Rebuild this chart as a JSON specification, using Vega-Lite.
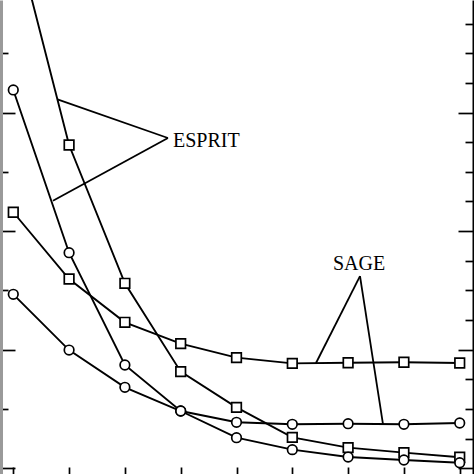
{
  "$schema": "https://vega.github.io/schema/vega-lite/v6.json",
  "width": 473,
  "height": 474,
  "autosize": {"type": "none"},
  "padding": {"left": 0, "top": 0, "right": 1, "bottom": 0},
  "background": "white",
  "config": {"view": {"stroke": null}},
  "datasets": {
    "curves": [
      {"x": 1, "y": 4.564, "series": "ESPRIT A", "marker": "square"},
      {"x": 2, "y": 2.726, "series": "ESPRIT A", "marker": "square"},
      {"x": 3, "y": 1.560, "series": "ESPRIT A", "marker": "square"},
      {"x": 4, "y": 0.815, "series": "ESPRIT A", "marker": "square"},
      {"x": 5, "y": 0.514, "series": "ESPRIT A", "marker": "square"},
      {"x": 6, "y": 0.261, "series": "ESPRIT A", "marker": "square"},
      {"x": 7, "y": 0.174, "series": "ESPRIT A", "marker": "square"},
      {"x": 8, "y": 0.132, "series": "ESPRIT A", "marker": "square"},
      {"x": 9, "y": 0.093, "series": "ESPRIT A", "marker": "square"},
      {"x": 1, "y": 3.190, "series": "ESPRIT B", "marker": "circle"},
      {"x": 2, "y": 1.818, "series": "ESPRIT B", "marker": "circle"},
      {"x": 3, "y": 0.871, "series": "ESPRIT B", "marker": "circle"},
      {"x": 4, "y": 0.483, "series": "ESPRIT B", "marker": "circle"},
      {"x": 5, "y": 0.258, "series": "ESPRIT B", "marker": "circle"},
      {"x": 6, "y": 0.157, "series": "ESPRIT B", "marker": "circle"},
      {"x": 7, "y": 0.095, "series": "ESPRIT B", "marker": "circle"},
      {"x": 8, "y": 0.070, "series": "ESPRIT B", "marker": "circle"},
      {"x": 9, "y": 0.047, "series": "ESPRIT B", "marker": "circle"},
      {"x": 1, "y": 2.159, "series": "SAGE A", "marker": "square"},
      {"x": 2, "y": 1.596, "series": "SAGE A", "marker": "square"},
      {"x": 3, "y": 1.231, "series": "SAGE A", "marker": "square"},
      {"x": 4, "y": 1.051, "series": "SAGE A", "marker": "square"},
      {"x": 5, "y": 0.933, "series": "SAGE A", "marker": "square"},
      {"x": 6, "y": 0.885, "series": "SAGE A", "marker": "square"},
      {"x": 7, "y": 0.890, "series": "SAGE A", "marker": "square"},
      {"x": 8, "y": 0.894, "series": "SAGE A", "marker": "square"},
      {"x": 9, "y": 0.888, "series": "SAGE A", "marker": "square"},
      {"x": 1, "y": 1.467, "series": "SAGE B", "marker": "circle"},
      {"x": 2, "y": 0.997, "series": "SAGE B", "marker": "circle"},
      {"x": 3, "y": 0.683, "series": "SAGE B", "marker": "circle"},
      {"x": 4, "y": 0.483, "series": "SAGE B", "marker": "circle"},
      {"x": 5, "y": 0.388, "series": "SAGE B", "marker": "circle"},
      {"x": 6, "y": 0.371, "series": "SAGE B", "marker": "circle"},
      {"x": 7, "y": 0.376, "series": "SAGE B", "marker": "circle"},
      {"x": 8, "y": 0.371, "series": "SAGE B", "marker": "circle"},
      {"x": 9, "y": 0.382, "series": "SAGE B", "marker": "circle"}
    ],
    "pointers": [
      {"x": 3.772, "y": 2.785, "x2": 1.792, "y2": 3.110},
      {"x": 3.772, "y": 2.785, "x2": 1.711, "y2": 2.256},
      {"x": 7.213, "y": 1.621, "x2": 6.425, "y2": 0.888},
      {"x": 7.213, "y": 1.621, "x2": 7.625, "y2": 0.373}
    ],
    "labels": [
      {"x": 3.862, "y": 2.713, "label": "ESPRIT"},
      {"x": 6.729, "y": 1.672, "label": "SAGE"}
    ]
  },
  "layer": [
    {
      "layer": [
        {
          "data": {"name": "curves"},
          "mark": {"type": "line", "color": "black", "strokeWidth": 1.9, "clip": true},
          "encoding": {
            "x": {"field": "x", "type": "quantitative",
                  "scale": {"domain": [0.762, 9.238], "nice": false, "zero": false},
                  "axis": {"orient": "bottom", "values": [1, 2, 3, 4, 5, 6, 7, 8, 9], "domain": false, "labels": false, "title": null, "grid": false, "ticks": true, "tickSize": -7, "tickColor": "black", "tickWidth": 1.7}},
            "y": {"field": "y", "type": "quantitative",
                  "scale": {"domain": [-0.0481, 3.9486], "nice": false, "zero": false},
                  "axis": {"orient": "left", "values": [0, 0.25, 0.5, 0.75, 1, 1.25, 1.5, 1.75, 2, 2.25, 2.5, 2.75, 3, 3.25, 3.5, 3.75],
                           "labels": false, "title": null, "grid": false, "domain": true, "domainColor": "#9a9a9a", "domainWidth": 5,
                           "tickColor": "black", "tickWidth": 1.7,
                           "tickSize": {"condition": {"test": "datum.value % 1 === 0", "value": -15}, "value": -8}}},
            "detail": {"field": "series"}
          }
        },
        {
          "data": {"name": "curves"},
          "mark": {"type": "point", "filled": true, "fill": "white", "stroke": "black", "strokeWidth": 1.7, "size": 92, "opacity": 1, "clip": true},
          "encoding": {
            "x": {"field": "x", "type": "quantitative"},
            "y": {"field": "y", "type": "quantitative"},
            "shape": {"field": "marker", "type": "nominal", "scale": {"domain": ["square", "circle"], "range": ["square", "circle"]}, "legend": null}
          }
        },
        {
          "data": {"name": "pointers"},
          "mark": {"type": "rule", "color": "black", "strokeWidth": 1.8},
          "encoding": {
            "x": {"field": "x", "type": "quantitative"},
            "y": {"field": "y", "type": "quantitative"},
            "x2": {"field": "x2"},
            "y2": {"field": "y2"}
          }
        },
        {
          "data": {"name": "labels"},
          "mark": {"type": "text", "font": "Liberation Serif", "fontSize": 20, "align": "left", "baseline": "alphabetic", "color": "black"},
          "encoding": {
            "x": {"field": "x", "type": "quantitative"},
            "y": {"field": "y", "type": "quantitative"},
            "text": {"field": "label"}
          }
        }
      ]
    },
    {
      "data": {"name": "labels"},
      "mark": {"type": "point", "opacity": 0},
      "encoding": {
        "x": {"field": "x", "type": "quantitative"},
        "y": {"field": "y", "type": "quantitative",
              "scale": {"domain": [-0.0481, 3.9486], "nice": false, "zero": false},
              "axis": {"orient": "right", "values": [0, 0.25, 0.5, 0.75, 1, 1.25, 1.5, 1.75, 2, 2.25, 2.5, 2.75, 3, 3.25, 3.5, 3.75],
                       "labels": false, "title": null, "grid": false, "domain": true, "domainColor": "black", "domainWidth": 2,
                       "tickColor": "black", "tickWidth": 1.7,
                       "tickSize": {"condition": {"test": "datum.value % 1 === 0", "value": -15}, "value": -8}}}
      }
    }
  ],
  "resolve": {"scale": {"y": "independent"}, "axis": {"y": "independent"}}
}
